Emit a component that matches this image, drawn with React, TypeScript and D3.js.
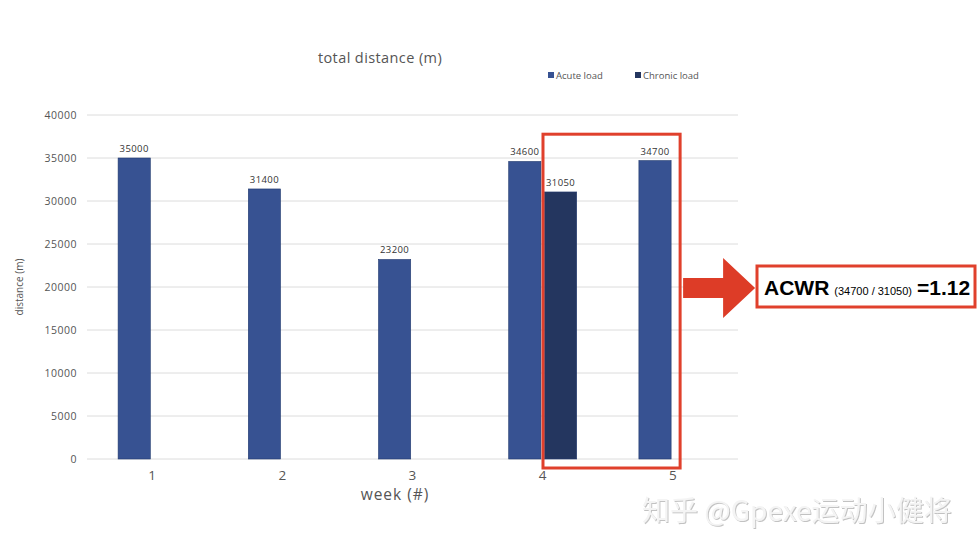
import * as d3 from "d3";

const WEEKS = ["1", "2", "3", "4", "5"];
const SERIES = ["Acute load", "Chronic load"];
const ACUTE = [35000, 31400, 23200, 34600, 34700];
const CHRONIC: (number | null)[] = [null, null, null, 31050, null];
const Y_TICKS = [0, 5000, 10000, 15000, 20000, 25000, 30000, 35000, 40000];
const COLORS = ["#375292", "#24365f"];

const WIDTH = 980;
const HEIGHT = 551;
const LEFT = 87;
const RIGHT = 738;
const TOP = 115;
const BOTTOM = 459;

const FONT = "'Open Sans', 'DejaVu Sans', sans-serif";

const App = () => {
  const x = d3.scaleBand<string>().domain(WEEKS).range([LEFT, RIGHT]);
  const bw = x.bandwidth();
  const x1 = d3
    .scaleBand<string>()
    .domain(SERIES)
    .range([bw / 2 - 34, bw / 2 + 34])
    .paddingInner(0.1);
  const y = d3.scaleLinear().domain([0, 40000]).range([BOTTOM, TOP]);

  const rows = WEEKS.map((w, i) => ({
    week: w,
    values: [ACUTE[i], CHRONIC[i]],
  }));

  // highlight box around chronic week 4 + acute week 5
  const boxX0 = (x("4") ?? 0) + (x1("Chronic load") ?? 0) - 1.5;
  const boxX1 = (x("5") ?? 0) + (x1("Acute load") ?? 0) + x1.bandwidth() + 9;
  const boxY0 = y(38000) + 2;
  const boxY1 = y(0) + 9;

  const arrowX0 = boxX1 + 3;
  const arrowMid = 288;

  return (
    <svg
      width={WIDTH}
      height={HEIGHT}
      style={{ position: "absolute", left: 0, top: 0, background: "#fff" }}
    >
      <defs>
        <filter id="wm-shadow" x="-5%" y="-20%" width="110%" height="140%">
          <feDropShadow dx="1" dy="1" stdDeviation="0.6" floodColor="#999" floodOpacity="0.6" />
        </filter>
      </defs>

      {/* title */}
      <text
        x={380}
        y={63}
        textAnchor="middle"
        fontFamily={FONT}
        fontSize={14.5}
        letterSpacing={0.4}
        fill="#555"
      >
        total distance (m)
      </text>

      {/* legend */}
      {SERIES.map((s, i) => (
        <g key={s} transform={`translate(${548 + i * 87},75)`}>
          <rect x={0} y={-3} width={6} height={6} fill={COLORS[i]} />
          <text x={8} y={3.5} fontFamily={FONT} fontSize={9.5} fill="#555">
            {s}
          </text>
        </g>
      ))}

      {/* grid + y ticks */}
      {Y_TICKS.map((t) => (
        <g key={t}>
          <line
            x1={LEFT}
            x2={RIGHT}
            y1={y(t)}
            y2={y(t)}
            stroke="#dcdcdc"
            strokeWidth={1}
          />
          <text
            x={77}
            y={y(t) + 3.5}
            textAnchor="end"
            fontFamily={FONT}
            fontSize={10.5}
            letterSpacing={0.5}
            fill="#555"
          >
            {t}
          </text>
        </g>
      ))}

      <text
        transform={`translate(23,${y(20000)}) rotate(-90)`}
        textAnchor="middle"
        fontFamily={FONT}
        fontSize={10}
        fill="#555"
      >
        distance (m)
      </text>

      {/* bars */}
      {rows.map((r) => (
        <g key={r.week} transform={`translate(${x(r.week)},0)`}>
          {r.values.map((v, j) =>
            v == null ? null : (
              <g key={j}>
                <rect
                  x={x1(SERIES[j])}
                  y={y(v)}
                  width={x1.bandwidth()}
                  height={y(0) - y(v)}
                  fill={COLORS[j]}
                  stroke="#223a6e"
                  strokeWidth={0.6}
                />
                <text
                  x={(x1(SERIES[j]) ?? 0) + x1.bandwidth() / 2}
                  y={y(v) - 6}
                  textAnchor="middle"
                  fontFamily={FONT}
                  fontSize={9.5}
                  letterSpacing={0.4}
                  fill="#333"
                >
                  {v}
                </text>
              </g>
            )
          )}
          <text
            x={bw / 2}
            y={480}
            textAnchor="middle"
            fontFamily={FONT}
            fontSize={13.5}
            fill="#555"
          >
            {r.week}
          </text>
        </g>
      ))}

      <text
        x={395}
        y={500}
        textAnchor="middle"
        fontFamily={FONT}
        fontSize={15.5}
        letterSpacing={1}
        fill="#555"
      >
        week (#)
      </text>

      {/* highlight box */}
      <rect
        x={boxX0}
        y={boxY0}
        width={boxX1 - boxX0}
        height={boxY1 - boxY0}
        fill="none"
        stroke="#e0402c"
        strokeWidth={3}
      />

      {/* arrow */}
      <path
        d={`M${arrowX0},${arrowMid - 10} L${arrowX0 + 40},${arrowMid - 10} L${arrowX0 + 40},${arrowMid - 30} L${arrowX0 + 72},${arrowMid} L${arrowX0 + 40},${arrowMid + 30} L${arrowX0 + 40},${arrowMid + 10} L${arrowX0},${arrowMid + 10} Z`}
        fill="#dd3c27"
      />

      {/* ACWR box */}
      <rect
        x={757}
        y={266}
        width={218}
        height={41}
        fill="#fff"
        stroke="#e0402c"
        strokeWidth={3}
      />
      <text
        x={764}
        y={295}
        fontFamily="'Liberation Sans', Arial, sans-serif"
        fill="#000"
      >
        <tspan fontSize={21} fontWeight="bold">
          ACWR
        </tspan>
        <tspan fontSize={11} dx={5}>
          (34700 / 31050)
        </tspan>
        <tspan fontSize={21} fontWeight="bold" dx={5}>
          =1.12
        </tspan>
      </text>

      {/* watermark */}
      <text
        x={642}
        y={521}
        fontFamily="'Noto Sans CJK SC', sans-serif"
        fontSize={28}
        fill="#f4f4f4"
        filter="url(#wm-shadow)"
      >
        知乎 @Gpexe运动小健将
      </text>
    </svg>
  );
};

export default App;
